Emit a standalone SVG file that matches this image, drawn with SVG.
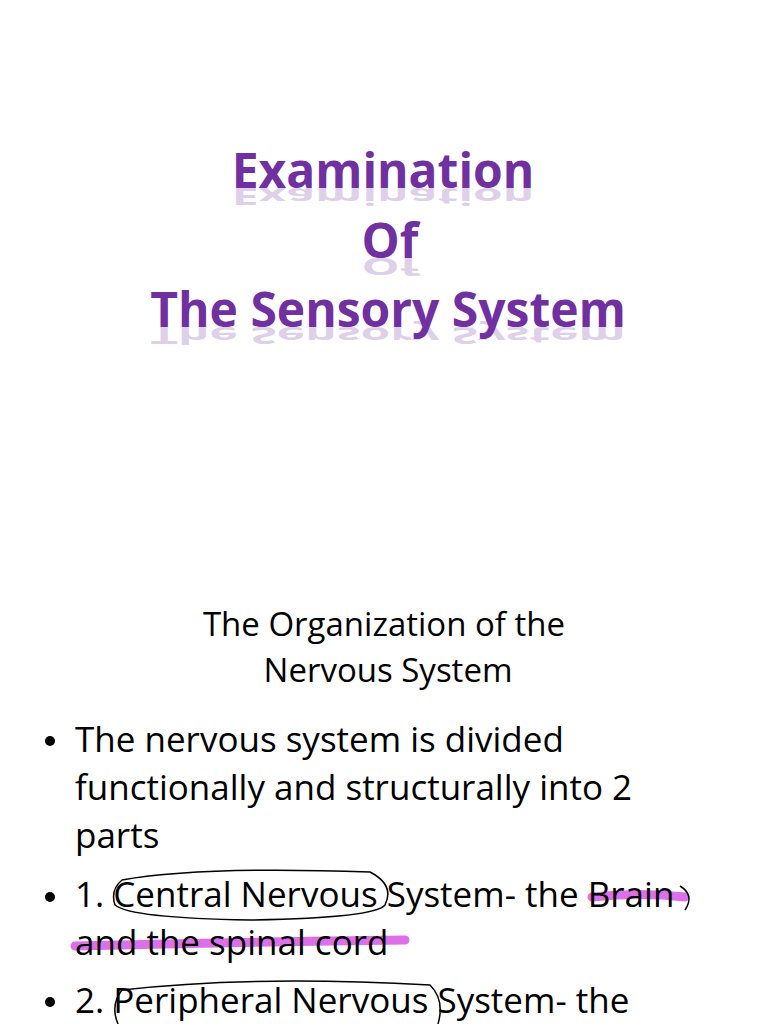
<svg xmlns="http://www.w3.org/2000/svg" width="768" height="1024" viewBox="0 0 768 1024">
<style>
.t{font-family:"Open Sans","Liberation Sans",sans-serif;font-weight:bold;font-size:48px;fill:#7030a0;text-anchor:middle}
.r{font-family:"Open Sans","Liberation Sans",sans-serif;font-weight:bold;font-size:48px;fill:#7030a0;text-anchor:middle;opacity:0.22}
.s{font-family:"Open Sans","Liberation Sans",sans-serif;font-size:33px;fill:#000;text-anchor:middle}
.b{font-family:"Open Sans","Liberation Sans",sans-serif;font-size:35px;fill:#000}
.hl{fill:none;stroke:#d040e0;stroke-width:9;stroke-linecap:round;opacity:0.75}
.c{fill:none;stroke:#000;stroke-width:1.5}
</style>
<rect width="768" height="1024" fill="#fff"/>
<g id="title">
<g transform="translate(0,282) scale(1,-0.5)"><text class="r" x="383" y="188">Examination</text></g>
<g transform="translate(0,387) scale(1,-0.5)"><text class="r" x="390" y="258">Of</text></g>
<g transform="translate(0,490) scale(1,-0.5)"><text class="r" x="388" y="327">The Sensory System</text></g>
<text class="t" x="383" y="188">Examination</text>
<text class="t" x="390" y="258">Of</text>
<text class="t" x="388" y="327">The Sensory System</text>
</g>
<g id="subtitle">
<text class="s" x="384" y="636">The Organization of the</text>
<text class="s" x="388" y="682">Nervous  System</text>
</g>
<path class="hl" d="M592 897 Q640 892 685 897"/>
<path class="hl" d="M75 946 Q240 942 405 940"/>
<g id="bullets">
<circle cx="50" cy="741" r="5"/>
<text class="b" x="75" y="752">The nervous system is divided</text>
<text class="b" x="75" y="800">functionally and structurally into 2</text>
<text class="b" x="75" y="848">parts</text>
<circle cx="50" cy="897" r="5"/>
<text class="b" x="75" y="907">1. Central Nervous System- the Brain</text>
<text class="b" x="75" y="955">and the spinal cord</text>
<circle cx="50" cy="1002" r="5"/>
<text class="b" x="75" y="1013">2. Peripheral Nervous System- the</text>
</g>
<path class="c" d="M122 880 Q200 866 370 872 Q395 885 385 905 Q375 918 250 920 Q130 918 115 905 Q110 890 122 880"/>
<path class="c" d="M680 886 Q695 895 685 910"/>
<path class="c" d="M122 990 Q250 975 430 985 Q445 1000 438 1024"/>
<path class="c" d="M122 990 Q110 1005 118 1024"/>
</svg>
